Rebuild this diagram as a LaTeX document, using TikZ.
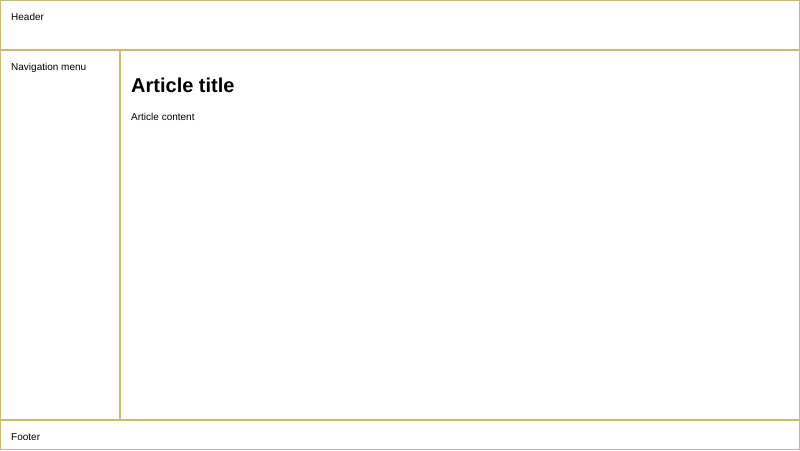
\documentclass[tikz,border=0pt]{standalone}
\usepackage{fontspec}
\setmainfont{Liberation Sans}
\definecolor{frame}{RGB}{204,186,104}
\begin{document}
\begin{tikzpicture}[x=1pt,y=-1pt,
  area/.style={draw=frame,line width=1.3pt,rectangle,inner sep=0pt,outer sep=0pt},
  lbl/.style={anchor=base west,inner sep=0pt,font=\fontsize{10}{12}\selectfont}]
\useasboundingbox (0,0) rectangle (800,450);
\fill[white] (0,0) rectangle (800,450);
\node[area,minimum width=799,minimum height=49.5,anchor=north west] (header) at (0.6,0.6) {};
\node[area,minimum width=119.4,minimum height=370,anchor=north west] (nav) at (0.6,50) {};
\node[area,minimum width=679.4,minimum height=370,anchor=north west] (main) at (120,50) {};
\node[area,minimum width=799,minimum height=29.4,anchor=north west] (footer) at (0.6,420) {};
\node[lbl] (th) at (11,20) {Header};
\node[lbl] (tn) at (11,70) {Navigation menu};
\node[lbl,font=\fontsize{20}{24}\bfseries] (tt) at (131,92) {Article title};
\node[lbl] (tc) at (131,120) {Article content};
\node[lbl] (tf) at (11,440) {Footer};
\end{tikzpicture}
\end{document}
